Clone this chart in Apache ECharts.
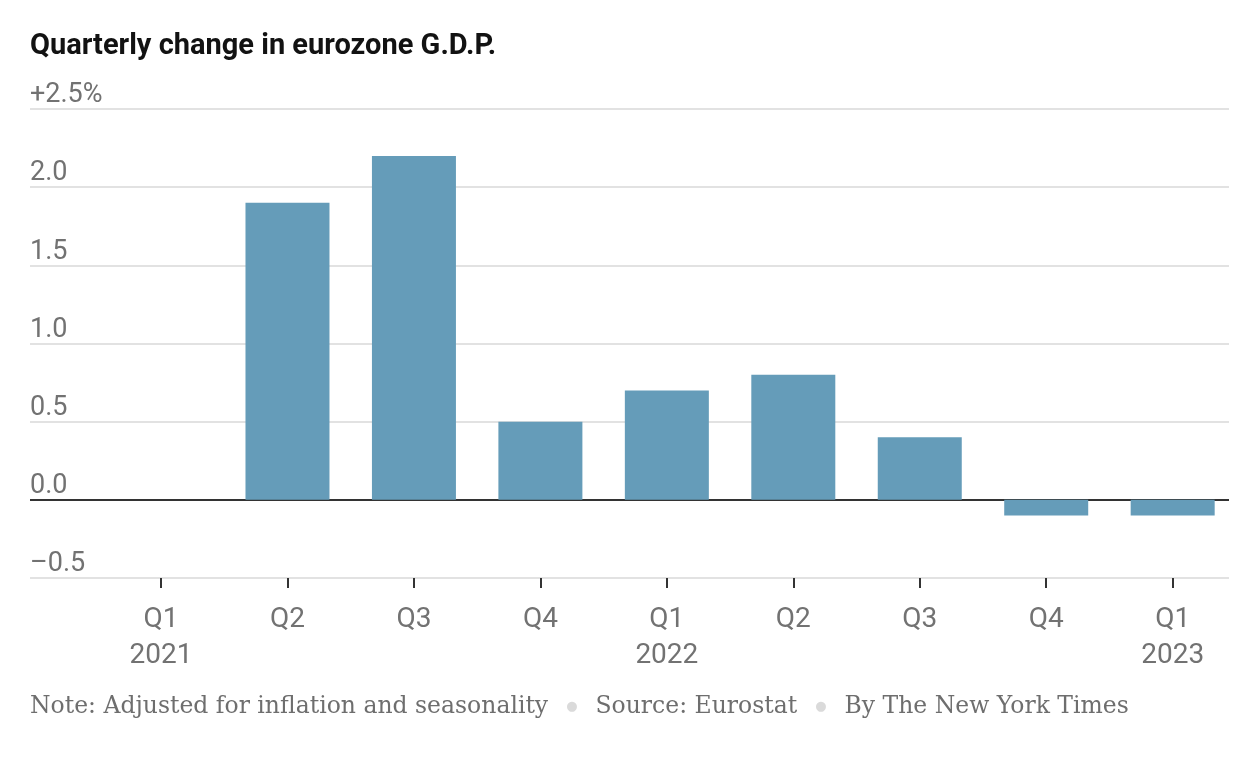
<!DOCTYPE html>
<html><head><meta charset="utf-8">
<script src="https://cdn.jsdelivr.net/npm/echarts@6/dist/echarts.min.js"></script>
<style>html,body{margin:0;padding:0;background:#fff}#c{width:1250px;height:760px}</style>
</head><body><div id="c"></div>
<script>
const quarters = ['Q1', 'Q2', 'Q3', 'Q4', 'Q1', 'Q2', 'Q3', 'Q4', 'Q1'];
const years = ['2021', '', '', '', '2022', '', '', '', '2023'];
const gdpChange = [0, 1.9, 2.2, 0.5, 0.7, 0.8, 0.4, -0.1, -0.1];
const yTicks = { '-0.5': '–0.5', '0': '0.0', '0.5': '0.5', '1': '1.0', '1.5': '1.5', '2': '2.0', '2.5': '+2.5%' };
const titleText = 'Quarterly change in eurozone G.D.P.';
const noteParts = ['Note: Adjusted for inflation and seasonality', 'Source: Eurostat', 'By The New York Times'];

const categories = quarters.map((q, i) => years[i] ? q + '\n' + years[i] : q);
const sans = 'Roboto, "Liberation Sans", sans-serif';
const chart = echarts.init(document.getElementById('c'), null, { renderer: 'canvas' });
chart.setOption({
  animation: false,
  title: {
    text: titleText, left: 30, top: 32, padding: 0,
    textStyle: { fontFamily: sans, fontWeight: 'bold', fontSize: 29, color: '#121212' }
  },
  grid: [
    { left: 30, right: 21, top: 109, bottom: 182 },
    { left: 97.8, right: 14.1, top: 109, bottom: 182 }
  ],
  xAxis: [
    { gridIndex: 0, type: 'value', min: 0, max: 1, show: false },
    {
      gridIndex: 1, type: 'category', data: categories,
      axisLine: { show: false, onZero: false },
      axisTick: { show: true, alignWithLabel: true, length: 10, lineStyle: { color: '#333', width: 2 } },
      axisLabel: { color: '#727272', fontFamily: sans, fontSize: 28, lineHeight: 36, margin: 24 }
    }
  ],
  yAxis: [
    {
      gridIndex: 0, type: 'value', min: -0.5, max: 2.5, interval: 0.5,
      axisLine: { show: false }, axisTick: { show: false },
      axisLabel: {
        inside: true, margin: 0, verticalAlign: 'bottom', padding: [0, 0, 0, 0],
        color: '#727272', fontFamily: sans, fontSize: 27,
        formatter: v => yTicks[String(v)] ?? ''
      },
      splitLine: { show: true, lineStyle: { color: ['#e2e2e2', '#333', '#e2e2e2', '#e2e2e2', '#e2e2e2', '#e2e2e2', '#e2e2e2'], width: 2 } }
    },
    { gridIndex: 1, type: 'value', min: -0.5, max: 2.5, interval: 0.5, show: false, splitLine: { show: false } }
  ],
  series: [
    { type: 'line', xAxisIndex: 0, yAxisIndex: 0, data: [], silent: true },
    {
      type: 'bar', xAxisIndex: 1, yAxisIndex: 1, data: gdpChange, barWidth: 84,
      itemStyle: { color: '#659cb9' }, z: 1
    }
  ],
  graphic: [{
    type: 'text', left: 30, top: 695,
    style: {
      text: '{t|' + noteParts[0] + '}{d|●}{t|' + noteParts[1] + '}{d|●}{t|' + noteParts[2] + '}',
      rich: {
        t: { fontFamily: '"DejaVu Serif", "Liberation Serif", serif', fontSize: 23.5, fill: '#6e6e6e' },
        d: { fontFamily: '"DejaVu Sans", sans-serif', fontSize: 13, fill: '#dadada', padding: [0, 18, 0, 18] }
      }
    }
  }]
});
</script></body></html>
